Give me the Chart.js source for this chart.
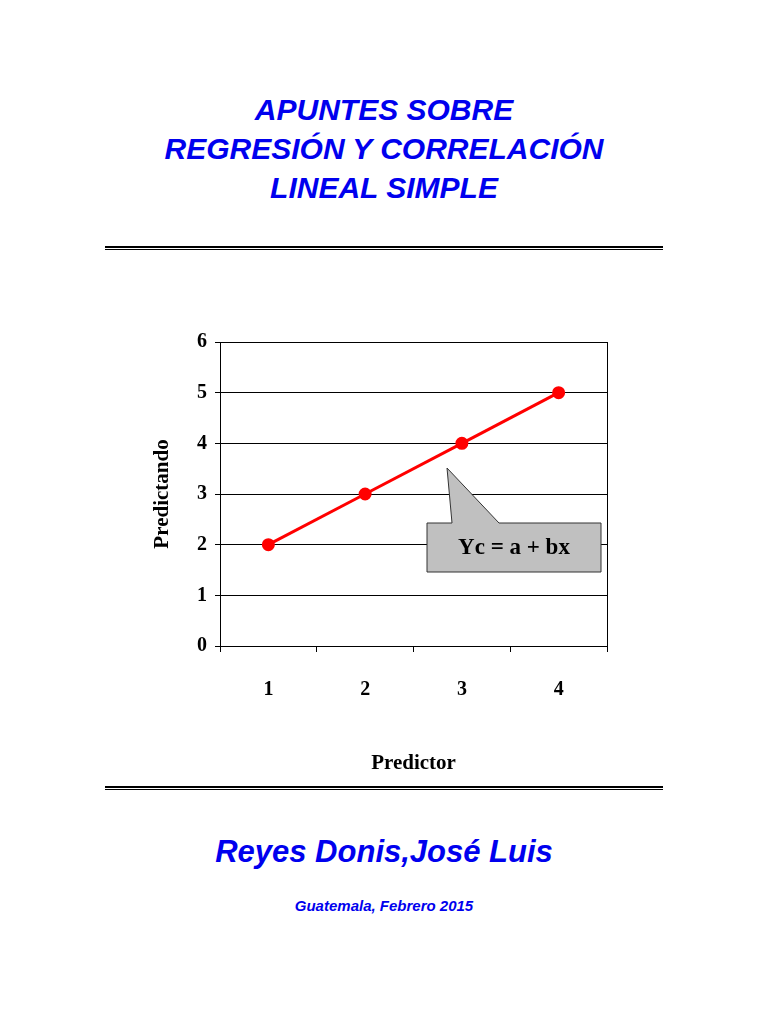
<!DOCTYPE html>
<html><head><meta charset="utf-8">
<script src="https://cdn.jsdelivr.net/npm/chart.js"></script>
<style>
body{margin:0;width:768px;height:1024px;background:#fff;position:relative;font-family:"Liberation Sans",Arial,sans-serif}
.t{position:absolute;left:0;width:768px;text-align:center;color:#0000ee;font-weight:bold;font-style:italic}
.rule{position:absolute;left:105px;width:558px;height:1px;border-top:2px solid #000;border-bottom:1px solid #000}
#c{position:absolute;left:0;top:300px}
</style></head><body>
<div class="t" style="top:90px;font-size:30px;line-height:39px">APUNTES SOBRE<br>REGRESIÓN Y CORRELACIÓN<br>LINEAL SIMPLE</div>
<div class="rule" style="top:246px"></div>
<div class="rule" style="top:786px"></div>
<div class="t" style="top:834px;font-size:31px">Reyes Donis,José Luis</div>
<div class="t" style="top:897px;font-size:15px">Guatemala, Febrero 2015</div>
<canvas id="c" width="768" height="480"></canvas>
<script>
const categories=["1","2","3","4"];
const values=[2,3,4,5];
const yTicks=[0,1,2,3,4,5,6];
const calloutText="Yc = a + bx";
const serif='"Liberation Serif","Times New Roman",serif';
const extra={id:'extra',afterDraw(ch){const c=ch.ctx,a=ch.chartArea;
c.save();c.strokeStyle='#000';c.lineWidth=1;c.beginPath();c.moveTo(a.right+0.5,a.top);c.lineTo(a.right+0.5,a.bottom);c.stroke();
const bx=a.left+207,by=a.top+181,bw=174,bh=49,tx=a.left+227,ty=a.top+126;
c.fillStyle='#c0c0c0';c.strokeStyle='#333';c.beginPath();
c.moveTo(bx,by);c.lineTo(bx+25,by);c.lineTo(tx,ty);c.lineTo(bx+72,by);c.lineTo(bx+bw,by);c.lineTo(bx+bw,by+bh);c.lineTo(bx,by+bh);c.closePath();c.fill();c.stroke();
c.fillStyle='#000';c.font='bold 23px '+serif;c.textAlign='center';c.textBaseline='middle';c.fillText(calloutText,bx+bw/2,by+bh/2+1);c.restore();}};
new Chart(document.getElementById('c'),{type:'line',
data:{labels:categories,datasets:[{data:values,borderColor:'#ff0000',backgroundColor:'#ff0000',borderWidth:3,pointRadius:5,pointBackgroundColor:'#ff0000',pointBorderColor:'#ff0000'}]},
options:{responsive:false,animation:false,layout:{padding:{left:150,right:161,top:42,bottom:0}},
plugins:{legend:{display:false},tooltip:{enabled:false}},
scales:{x:{offset:true,grid:{drawOnChartArea:false,color:'#000',tickLength:6,offset:true},border:{color:'#000'},
ticks:{color:'#000',padding:26,font:{family:serif,size:20,weight:'bold'}},
title:{display:true,text:'Predictor',color:'#000',font:{family:serif,size:21,weight:'bold'},padding:{top:10}},
afterFit(s){s.height=134;}},
y:{min:0,max:6,afterBuildTicks(s){s.ticks=yTicks.map(v=>({value:v}));},
grid:{color:'#000',tickLength:5},border:{color:'#000'},
ticks:{color:'#000',padding:8,font:{family:serif,size:20,weight:'bold'}},
title:{display:true,text:'Predictando',color:'#000',font:{family:serif,size:21,weight:'bold'},padding:0},
afterFit(s){s.width=70;}}}},plugins:[extra]});
</script></body></html>
